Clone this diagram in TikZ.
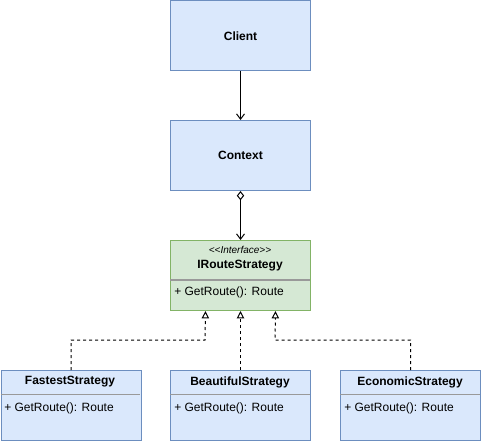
\documentclass[tikz,border=0pt]{standalone}
\usepackage{fontspec}
\setmainfont{Liberation Sans}
\usetikzlibrary{arrows.meta,positioning}
\definecolor{bluefill}{HTML}{DAE8FC}
\definecolor{bluedraw}{HTML}{6C8EBF}
\definecolor{greenfill}{HTML}{D5E8D4}
\definecolor{greendraw}{HTML}{82B366}
\definecolor{divgray}{HTML}{999999}
\begin{document}
\begin{tikzpicture}[x=0.75pt,y=-0.75pt,
  bluebox/.style={draw=bluedraw,fill=bluefill,line width=0.75pt,minimum width=105pt,minimum height=52.5pt,inner sep=0pt,anchor=north west,font=\fontsize{9}{11}\selectfont\bfseries},
  classbox/.style={draw=bluedraw,fill=bluefill,line width=0.75pt,minimum width=105pt,minimum height=52.5pt,inner sep=0pt,anchor=north west},
  ifacebox/.style={draw=greendraw,fill=greenfill,line width=0.75pt,minimum width=105pt,minimum height=52.5pt,inner sep=0pt,anchor=north west},
  divider/.style={draw=divgray,line width=0.75pt},
  lbl/.style={font=\fontsize{9}{11}\selectfont,inner sep=0pt},
  title/.style={font=\fontsize{9}{11}\selectfont\bfseries,inner sep=0pt},
  conn/.style={line width=0.75pt,black},
  dashconn/.style={line width=0.75pt,black,dash pattern=on 2.25pt off 2.25pt},
  realize/.style={-{Triangle[open,length=5.5pt,width=5.5pt,line width=0.75pt]}},
  assoc/.style={-{Straight Barb[length=4pt,width=6pt,line width=0.75pt]}},
  aggr/.style={{Diamond[open,length=7pt,width=5.5pt,line width=0.75pt]}-{Straight Barb[length=4pt,width=6pt,line width=0.75pt]}}
]
\useasboundingbox (0,0) rectangle (481,441);
% Client and Context
\node[bluebox] (client) at (170,0.5) {Client};
\node[bluebox] (context) at (170,120) {Context};
% Interface
\node[ifacebox] (iface) at (170,240) {};
\draw[divider] (170,280) -- (310,280);
\node[lbl,font=\fontsize{7.5}{9}\selectfont\itshape] (stereo) at (240,250) {<{}<Interface>{}>};
\node[title] (ifname) at (240,266) {IRouteStrategy};
\node[lbl,anchor=west] (ifop) at (174,292) {+ GetRoute(): Route};
% Bottom classes
\node[classbox] (fast) at (0.5,370) {};
\draw[divider] (0.5,394) -- (140,394);
\node[title] (fastname) at (70,382) {FastestStrategy};
\node[lbl,anchor=west] (fastop) at (4,408.5) {+ GetRoute(): Route};
\node[classbox] (beau) at (170,370) {};
\draw[divider] (170,394) -- (310,394);
\node[title] (beauname) at (240,382) {BeautifulStrategy};
\node[lbl,anchor=west] (beauop) at (174,408.5) {+ GetRoute(): Route};
\node[classbox] (eco) at (340,370) {};
\draw[divider] (340,394) -- (480,394);
\node[title] (econame) at (410,382) {EconomicStrategy};
\node[lbl,anchor=west] (ecoop) at (344,408.5) {+ GetRoute(): Route};
% Connectors
\draw[conn,assoc] (client.south) -- (context.north);
\draw[conn,aggr] (context.south) -- (iface.north);
\coordinate (ifl) at ([xshift=-26.25pt]iface.south);
\coordinate (ifr) at ([xshift=26.25pt]iface.south);
\draw[dashconn,realize] (fast.north) |- (205,340) -- (ifl);
\draw[dashconn,realize] (beau.north) -- (iface.south);
\draw[dashconn,realize] (eco.north) |- (275,340) -- (ifr);
\end{tikzpicture}
\end{document}
